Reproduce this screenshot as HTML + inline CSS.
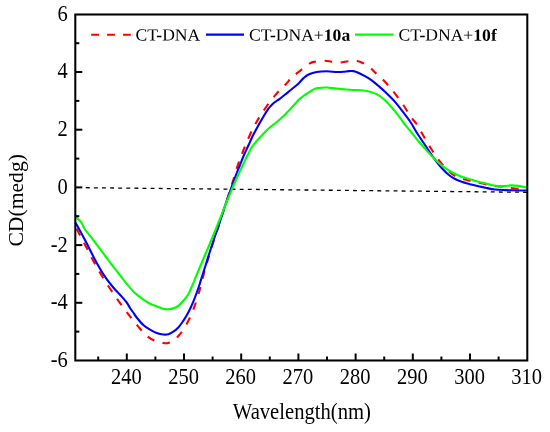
<!DOCTYPE html>
<html><head><meta charset="utf-8"><title>CD spectra</title>
<style>
html,body{margin:0;padding:0;background:#fff;}
body{width:550px;height:432px;overflow:hidden;}
svg{display:block;font-family:"Liberation Serif","Times New Roman",serif;}
</style></head><body>
<svg width="550" height="432" viewBox="0 0 550 432">
<rect width="550" height="432" fill="#fff"/>
<line x1="85.8" y1="187.7" x2="527.3" y2="192.3" stroke="#000" stroke-width="1.3" stroke-dasharray="3.9 4.2"/>
<g fill="none" stroke-width="2.1" stroke-linejoin="round">
<path stroke="#ff0000" stroke-dasharray="7.8 8.43" stroke-dashoffset="-2.3" d="M75.5 226.5C76.3 228.1 78.5 232.5 80.3 236.0C82.1 239.5 84.3 243.3 86.5 247.5C88.7 251.7 90.9 256.3 93.4 261.0C96.0 265.7 98.9 271.0 101.8 275.8C104.7 280.6 107.8 285.3 111.0 290.0C114.2 294.7 117.6 299.8 120.8 304.2C124.0 308.6 127.1 312.6 130.0 316.3C132.9 320.1 135.5 323.4 138.3 326.7C141.1 329.9 143.9 333.4 146.7 335.8C149.5 338.2 152.2 339.6 155.0 340.8C157.8 342.0 161.1 342.6 163.3 343.0C165.5 343.4 166.4 343.6 168.3 343.0C170.2 342.4 173.1 340.7 175.0 339.2C176.9 337.7 178.3 336.3 180.0 334.2C181.7 332.1 183.3 329.5 185.0 326.7C186.7 323.9 188.3 321.1 190.0 317.5C191.7 313.9 193.5 309.3 195.0 305.0C196.5 300.7 198.2 295.0 199.2 291.7C200.2 288.4 200.3 287.8 201.0 285.0C201.7 282.2 202.6 278.3 203.5 275.0C204.4 271.7 205.3 268.3 206.3 265.0C207.3 261.7 208.3 258.3 209.3 255.0C210.3 251.7 211.4 248.3 212.4 245.0C213.4 241.7 214.5 238.3 215.6 235.0C216.7 231.7 217.8 228.3 218.9 225.0C220.0 221.7 221.1 218.3 222.1 215.0C223.1 211.7 224.7 206.7 225.2 205.0"/>
<path stroke="#ff0000" stroke-dasharray="7.8 8.43" stroke-dashoffset="-5.32" d="M225.2 205.0C225.8 203.3 227.6 197.6 228.5 195.0C229.4 192.4 229.6 192.0 230.4 189.3C231.2 186.7 232.3 183.3 233.6 179.0C234.9 174.7 236.8 168.2 238.4 163.4C240.1 158.6 241.6 154.8 243.5 150.0C245.4 145.2 247.7 139.7 250.0 134.7C252.3 129.7 254.8 124.9 257.5 120.2C260.2 115.5 263.3 111.0 266.5 106.5C269.7 102.0 273.7 97.0 276.9 93.3C280.1 89.6 283.3 86.8 285.8 84.2C288.3 81.6 289.3 79.7 291.7 77.5C294.1 75.3 296.9 73.2 300.0 70.8C303.1 68.4 307.5 64.8 310.0 63.3C312.5 61.8 312.5 62.1 315.0 61.7C317.5 61.3 322.2 60.8 325.0 60.8C327.8 60.8 329.2 61.4 331.7 61.7C334.2 62.0 337.2 62.6 340.0 62.5C342.8 62.4 345.8 61.5 348.3 61.2C350.8 60.9 352.8 60.6 355.0 60.8C357.2 61.0 359.2 61.4 361.7 62.5C364.2 63.6 367.8 65.8 370.0 67.5C372.2 69.2 372.8 70.4 375.0 72.5C377.2 74.6 380.8 77.5 383.3 80.0C385.8 82.5 387.8 84.9 390.0 87.5C392.2 90.1 394.5 92.9 396.7 95.8C398.9 98.7 401.2 101.9 403.3 105.0C405.4 108.1 407.5 111.7 409.2 114.2C410.9 116.7 412.1 118.3 413.3 120.0C414.6 121.7 415.2 121.8 416.7 124.2C418.2 126.6 420.1 130.2 422.5 134.2C424.9 138.2 427.9 143.7 430.8 148.3C433.7 152.9 437.1 157.9 440.0 161.7C442.9 165.4 445.5 168.3 448.3 170.8C451.1 173.3 453.6 175.2 456.7 176.7C459.8 178.2 463.1 179.0 466.7 180.0C470.2 181.0 474.1 181.8 478.0 182.6C481.9 183.4 486.8 184.4 490.0 185.0C493.2 185.6 494.8 185.9 497.0 186.2C499.2 186.5 500.3 186.3 503.0 186.7C505.7 187.0 509.3 187.9 513.3 188.3C517.2 188.7 524.5 189.0 526.7 189.2"/>
<path stroke="#0000ff" d="M75.5 222.5C76.2 223.9 78.1 227.3 80.0 230.8C81.9 234.3 84.3 238.6 86.7 243.3C89.1 248.0 92.2 254.4 94.6 259.0C97.0 263.6 99.2 267.4 101.2 270.8C103.2 274.2 104.7 276.4 106.7 279.2C108.7 282.0 111.1 284.9 113.3 287.5C115.5 290.1 117.8 292.2 120.0 294.7C122.2 297.2 125.0 300.3 126.7 302.5C128.4 304.7 128.9 306.3 130.0 308.0C131.1 309.7 132.2 310.9 133.3 312.5C134.4 314.1 135.0 315.4 136.7 317.5C138.4 319.6 141.1 323.0 143.3 325.0C145.5 327.0 147.8 328.4 150.0 329.7C152.2 331.0 154.5 332.2 156.7 333.0C158.9 333.8 161.4 334.3 163.3 334.5C165.2 334.7 166.6 334.7 168.3 334.2C170.0 333.7 171.6 332.8 173.3 331.7C175.0 330.6 176.6 329.3 178.3 327.5C180.0 325.7 181.6 323.3 183.3 320.8C185.0 318.3 186.6 315.7 188.3 312.5C190.0 309.3 191.8 305.4 193.3 301.7C194.8 298.0 196.5 293.3 197.5 290.5C198.5 287.7 198.6 287.6 199.4 285.0C200.2 282.4 201.4 278.3 202.5 275.0C203.6 271.7 204.6 268.3 205.7 265.0C206.8 261.7 207.8 258.3 208.8 255.0C209.9 251.7 210.9 248.3 212.0 245.0C213.1 241.7 214.2 238.3 215.4 235.0C216.6 231.7 217.8 228.3 218.9 225.0C220.0 221.7 221.0 218.3 222.1 215.0C223.2 211.7 224.2 208.3 225.3 205.0C226.4 201.7 227.9 197.6 228.8 195.0C229.7 192.4 229.9 192.0 230.8 189.3C231.8 186.7 233.0 183.1 234.5 179.0C236.0 174.9 238.4 169.0 240.0 165.0C241.6 161.0 242.6 158.3 244.0 155.0C245.4 151.7 247.1 148.3 248.6 145.0C250.1 141.7 251.5 138.3 253.2 135.0C254.9 131.7 256.9 128.1 258.6 125.0C260.3 121.9 261.9 119.2 263.5 116.5C265.1 113.8 266.9 110.9 268.1 109.1C269.4 107.3 270.1 106.7 271.0 105.7C271.9 104.7 272.8 103.8 273.7 103.0C274.6 102.2 275.6 101.6 276.5 101.0C277.4 100.4 277.9 100.2 279.3 99.2C280.7 98.2 283.0 96.3 284.8 94.8C286.6 93.3 288.7 91.7 290.4 90.3C292.1 88.9 293.6 87.7 295.0 86.5C296.4 85.3 297.5 84.4 299.0 82.9C300.5 81.4 302.4 79.0 304.1 77.6C305.8 76.1 306.9 75.1 309.0 74.2C311.1 73.3 313.8 72.5 316.7 72.0C319.6 71.5 323.4 71.3 326.7 71.3C330.0 71.3 333.9 71.9 336.7 72.0C339.5 72.1 341.2 72.0 343.3 71.8C345.4 71.6 347.3 71.2 349.0 71.1C350.7 71.0 351.9 70.8 353.5 71.1C355.1 71.4 356.4 71.9 358.3 72.8C360.2 73.7 362.8 75.0 365.0 76.2C367.2 77.5 369.5 78.7 371.7 80.3C373.9 81.9 376.1 83.9 378.3 85.8C380.5 87.7 382.8 89.6 385.0 91.7C387.2 93.8 389.5 96.0 391.7 98.3C393.9 100.6 396.1 103.1 398.3 105.8C400.5 108.5 402.9 111.8 405.0 114.6C407.1 117.4 408.9 119.5 410.8 122.5C412.8 125.5 414.6 129.2 416.7 132.5C418.8 135.8 421.1 139.2 423.3 142.5C425.5 145.8 427.9 149.4 430.0 152.5C432.1 155.6 433.9 158.2 435.8 160.8C437.8 163.4 439.6 165.7 441.7 168.0C443.8 170.3 446.1 172.7 448.3 174.5C450.5 176.3 452.8 177.8 455.0 179.0C457.2 180.2 459.2 180.8 461.7 181.7C464.2 182.6 467.2 183.4 470.0 184.2C472.8 184.9 475.5 185.6 478.3 186.2C481.1 186.8 483.9 187.4 486.7 188.0C489.5 188.6 492.2 189.2 495.0 189.5C497.8 189.8 500.5 189.9 503.3 190.0C506.1 190.1 507.8 190.2 511.7 190.3C515.6 190.4 524.2 190.5 526.7 190.5"/>
<path stroke="#00ff00" d="M75.5 215.3C75.9 215.9 76.8 217.6 77.8 218.8C78.8 220.0 80.1 220.7 81.3 222.4C82.5 224.1 83.2 226.7 84.7 229.0C86.2 231.3 88.4 233.6 90.5 236.4C92.6 239.2 95.2 242.5 97.5 245.6C99.8 248.7 102.0 251.7 104.4 254.8C106.8 257.9 109.7 261.8 111.7 264.5C113.8 267.2 114.5 268.0 116.7 270.9C118.9 273.8 122.2 278.3 125.0 281.7C127.8 285.1 130.5 288.6 133.3 291.4C136.1 294.2 138.9 296.2 141.7 298.3C144.5 300.4 147.2 302.2 150.0 303.7C152.8 305.1 156.1 306.2 158.3 307.0C160.5 307.8 161.6 308.3 163.3 308.7C165.0 309.1 166.6 309.3 168.3 309.2C170.0 309.1 171.6 308.9 173.3 308.3C175.0 307.7 176.6 307.1 178.3 305.8C180.0 304.6 181.6 302.7 183.3 300.8C185.0 298.9 186.8 296.8 188.3 294.2C189.8 291.6 191.1 288.2 192.5 285.0C193.9 281.8 195.2 278.3 196.6 275.0C198.0 271.7 199.4 268.3 200.8 265.0C202.2 261.7 203.6 258.3 205.0 255.0C206.4 251.7 207.9 248.3 209.3 245.0C210.7 241.7 212.0 238.3 213.4 235.0C214.8 231.7 216.2 228.3 217.5 225.0C218.8 221.7 220.2 218.3 221.5 215.0C222.8 211.7 224.1 208.3 225.4 205.0C226.7 201.7 228.4 197.6 229.5 195.0C230.6 192.4 230.7 192.0 231.8 189.3C232.9 186.7 234.5 183.1 236.3 179.0C238.2 174.9 241.0 169.0 242.9 165.0C244.8 161.0 246.0 158.3 247.7 155.0C249.4 151.7 250.9 148.4 253.2 145.2C255.5 142.0 259.3 138.2 261.6 135.7C263.9 133.2 265.3 131.7 267.0 130.0C268.7 128.3 270.2 127.2 271.9 125.8C273.6 124.4 275.5 123.0 277.4 121.5C279.2 120.0 281.1 118.3 283.0 116.5C284.9 114.7 286.5 113.0 288.5 110.9C290.5 108.8 293.2 106.0 295.0 104.0C296.8 102.0 297.8 100.6 299.5 99.1C301.2 97.6 303.2 96.2 305.0 94.9C306.8 93.7 308.3 92.6 310.0 91.6C311.7 90.6 313.3 89.3 315.0 88.7C316.7 88.1 318.1 88.2 320.0 88.0C321.9 87.8 323.9 87.4 326.7 87.5C329.5 87.6 333.4 88.3 336.7 88.6C340.0 88.9 343.9 89.3 346.7 89.5C349.5 89.7 350.8 89.9 353.3 90.0C355.8 90.1 358.9 89.9 361.7 90.2C364.5 90.5 367.5 91.1 370.0 91.8C372.5 92.5 374.5 93.0 376.7 94.2C378.9 95.4 381.1 96.9 383.3 98.8C385.5 100.7 387.8 103.1 390.0 105.5C392.2 107.9 394.6 110.7 396.7 113.3C398.8 115.9 401.1 119.3 402.5 121.2C403.9 123.1 403.5 122.8 405.0 124.7C406.5 126.6 409.5 130.1 411.7 132.8C413.9 135.5 416.1 138.4 418.3 141.0C420.5 143.6 422.8 146.1 425.0 148.6C427.2 151.1 429.5 153.6 431.7 155.9C433.9 158.2 436.1 160.5 438.3 162.5C440.5 164.5 442.5 166.1 445.0 167.8C447.5 169.6 450.5 171.5 453.3 173.0C456.1 174.5 458.9 175.8 461.7 176.8C464.5 177.8 467.2 178.4 470.0 179.2C472.8 180.0 475.5 180.9 478.3 181.7C481.1 182.4 483.9 183.0 486.7 183.7C489.5 184.4 492.2 185.4 495.0 185.8C497.8 186.2 500.5 186.2 503.3 186.1C506.1 186.0 509.2 185.4 511.7 185.4C514.2 185.4 515.8 185.6 518.3 185.9C520.8 186.2 525.3 187.2 526.7 187.5"/>
</g>
<rect x="75.3" y="14.5" width="452.0" height="346.0" fill="none" stroke="#000" stroke-width="2.05"/>
<g stroke="#000" stroke-width="2"><line x1="98.2" y1="360.5" x2="98.2" y2="356.5"/><line x1="126.8" y1="360.5" x2="126.8" y2="353.5"/><line x1="155.4" y1="360.5" x2="155.4" y2="356.5"/><line x1="184.0" y1="360.5" x2="184.0" y2="353.5"/><line x1="212.6" y1="360.5" x2="212.6" y2="356.5"/><line x1="241.2" y1="360.5" x2="241.2" y2="353.5"/><line x1="269.8" y1="360.5" x2="269.8" y2="356.5"/><line x1="298.4" y1="360.5" x2="298.4" y2="353.5"/><line x1="327.0" y1="360.5" x2="327.0" y2="356.5"/><line x1="355.6" y1="360.5" x2="355.6" y2="353.5"/><line x1="384.2" y1="360.5" x2="384.2" y2="356.5"/><line x1="412.8" y1="360.5" x2="412.8" y2="353.5"/><line x1="441.4" y1="360.5" x2="441.4" y2="356.5"/><line x1="470.0" y1="360.5" x2="470.0" y2="353.5"/><line x1="498.6" y1="360.5" x2="498.6" y2="356.5"/><line x1="75.3" y1="331.6" x2="79.3" y2="331.6"/><line x1="75.3" y1="302.8" x2="82.3" y2="302.8"/><line x1="75.3" y1="273.9" x2="79.3" y2="273.9"/><line x1="75.3" y1="245.1" x2="82.3" y2="245.1"/><line x1="75.3" y1="216.2" x2="79.3" y2="216.2"/><line x1="75.3" y1="187.4" x2="82.3" y2="187.4"/><line x1="75.3" y1="158.6" x2="79.3" y2="158.6"/><line x1="75.3" y1="129.7" x2="82.3" y2="129.7"/><line x1="75.3" y1="100.9" x2="79.3" y2="100.9"/><line x1="75.3" y1="72.0" x2="82.3" y2="72.0"/><line x1="75.3" y1="43.2" x2="79.3" y2="43.2"/></g>
<g font-size="20.5px" fill="#000"><text transform="translate(126.3 384.4) scale(1 1.1)" text-anchor="middle">240</text><text transform="translate(183.5 384.4) scale(1 1.1)" text-anchor="middle">250</text><text transform="translate(240.7 384.4) scale(1 1.1)" text-anchor="middle">260</text><text transform="translate(297.9 384.4) scale(1 1.1)" text-anchor="middle">270</text><text transform="translate(355.1 384.4) scale(1 1.1)" text-anchor="middle">280</text><text transform="translate(412.3 384.4) scale(1 1.1)" text-anchor="middle">290</text><text transform="translate(469.5 384.4) scale(1 1.1)" text-anchor="middle">300</text><text transform="translate(526.7 384.4) scale(1 1.1)" text-anchor="middle">310</text><text transform="translate(67.7 366.8) scale(1 1.1)" text-anchor="end">-6</text><text transform="translate(67.7 309.2) scale(1 1.1)" text-anchor="end">-4</text><text transform="translate(67.7 251.5) scale(1 1.1)" text-anchor="end">-2</text><text transform="translate(67.7 193.8) scale(1 1.1)" text-anchor="end">0</text><text transform="translate(67.7 136.1) scale(1 1.1)" text-anchor="end">2</text><text transform="translate(67.7 78.4) scale(1 1.1)" text-anchor="end">4</text><text transform="translate(67.7 20.8) scale(1 1.1)" text-anchor="end">6</text></g>
<g stroke-width="2.1">
<line x1="91.2" y1="34.7" x2="131" y2="34.7" stroke="#ff0000" stroke-width="2" stroke-dasharray="7.8 8.1"/>
<line x1="206" y1="34.6" x2="244" y2="34.6" stroke="#0000ff"/>
<line x1="355" y1="34.6" x2="393.5" y2="34.6" stroke="#00ff00"/>
</g>
<g font-size="17.62px" fill="#000">
<text transform="translate(135.4 40.6) rotate(0.03) scale(1 0.965)">CT-DNA</text>
<text transform="translate(249 40.6) rotate(0.03) scale(1 0.965)">CT-DNA+<tspan font-weight="bold">10a</tspan></text>
<text transform="translate(398.5 40.6) rotate(0.03) scale(1 0.965)">CT-DNA+<tspan font-weight="bold">10f</tspan></text>
</g>
<text font-size="20.65px" transform="translate(301.9 419) scale(1 1.07)" text-anchor="middle">Wavelength(nm)</text>
<text font-size="20.8px" transform="translate(22.9 200.3) rotate(-90) scale(1.04 1)" text-anchor="middle">CD(medg)</text>
</svg>
</body></html>
